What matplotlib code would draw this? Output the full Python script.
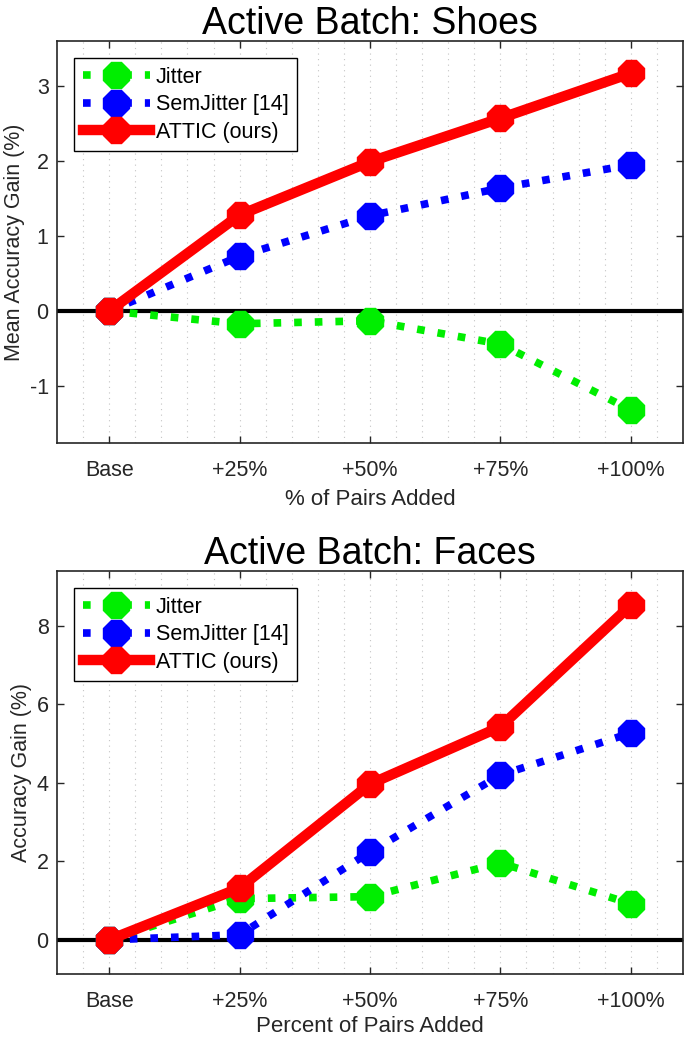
import matplotlib
matplotlib.use('Agg')
import matplotlib.pyplot as plt
import numpy as np

plt.rcParams['font.family'] = ['Liberation Sans', 'DejaVu Sans']

x_labels = ['Base', '+25%', '+50%', '+75%', '+100%']
series_names = ['Jitter', 'SemJitter [14]', 'ATTIC (ours)']

shoes_jitter = [0, -0.17, -0.13, -0.44, -1.32]
shoes_semjitter = [0, 0.73, 1.27, 1.64, 1.95]
shoes_attic = [0, 1.28, 1.99, 2.57, 3.17]

faces_jitter = [0, 1.05, 1.1, 1.96, 0.92]
faces_semjitter = [0, 0.13, 2.24, 4.2, 5.27]
faces_attic = [0, 1.32, 3.97, 5.43, 8.53]

colors = ['#00ee00', '#0000ff', '#ff0000']
dotted = (0, (1, 1.7))


def draw(ax, ys, title, ylabel, xlabel, ylim, yticks, yticklabels, xpad):
    x = np.arange(len(x_labels))
    ax.axhline(0, color='black', linewidth=3, zorder=2)
    for y, name, c in zip(ys, series_names, colors):
        ls = '-' if name.startswith('ATTIC') else dotted
        lw = 7.5 if name.startswith('ATTIC') else 5.5
        ax.plot(x, y, linestyle=ls, linewidth=lw, color=c, marker='8',
                markersize=19.5, markeredgecolor=c, dash_capstyle='butt',
                label=name, zorder=3)
    ax.set_xlim(-0.4, 4.4)
    ax.set_ylim(*ylim)
    ax.set_xticks(x)
    ax.set_xticklabels(x_labels, fontsize=15.5)
    ax.set_xticks(np.arange(-0.2, 4.3, 0.2), minor=True)
    ax.set_yticks(yticks)
    ax.set_yticklabels(yticklabels, fontsize=15.5)
    ax.tick_params(which='major', direction='in', top=True, right=True,
                   length=5, width=1, color='#262626', labelcolor='#262626')
    ax.tick_params(axis='x', which='major', pad=12)
    ax.tick_params(axis='y', which='major', pad=6)
    ax.tick_params(which='minor', length=0)
    ax.grid(axis='x', which='both', linestyle=(0, (1, 4)), color='#c4c4c4',
            linewidth=0.8)
    for s in ax.spines.values():
        s.set_color('#262626')
        s.set_linewidth(1.2)
    ax.set_title(title, fontsize=27, pad=5)
    ax.set_ylabel(ylabel, fontsize=15.5, color='#262626', labelpad=3)
    ax.set_xlabel(xlabel, fontsize=16, color='#262626', labelpad=xpad)
    leg = ax.legend(loc='upper left', fontsize=15.5, handlelength=3.1,
                    borderpad=0.4, labelspacing=0.3, handletextpad=0.3,
                    fancybox=False, framealpha=1, edgecolor='black',
                    borderaxespad=0.8)
    leg.get_frame().set_linewidth(1)


fig = plt.figure(figsize=(6.86, 10.38), dpi=100)
ax1 = fig.add_axes([0.0831, 0.5732, 0.9125, 0.3873])
ax2 = fig.add_axes([0.0831, 0.0617, 0.9125, 0.3882])

draw(ax1, [shoes_jitter, shoes_semjitter, shoes_attic], 'Active Batch: Shoes',
     'Mean Accuracy Gain (%)', '% of Pairs Added', (-1.76, 3.6),
     [-1, 0, 1, 2, 3], ['-1', '0', '1', '2', '3'], 6)
draw(ax2, [faces_jitter, faces_semjitter, faces_attic], 'Active Batch: Faces',
     'Accuracy Gain (%)', 'Percent of Pairs Added', (-0.87, 9.4),
     [0, 2, 4, 6, 8], ['0', '2', '4', '6', '8'], 3.5)

fig.savefig('out.png', dpi=100)
